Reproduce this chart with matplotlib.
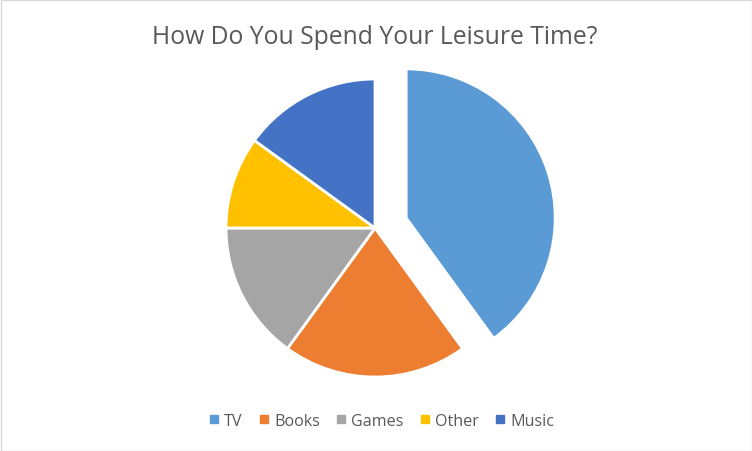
import matplotlib
matplotlib.use("Agg")
import matplotlib.pyplot as plt
from matplotlib.patches import Rectangle
from matplotlib.lines import Line2D

categories = ["TV", "Books", "Games", "Other", "Music"]
values = [40, 20, 15, 10, 15]
colors = ["#5B9BD5", "#ED7D31", "#A5A5A5", "#FFC000", "#4472C4"]
explode = [0.22, 0, 0, 0, 0]

plt.rcParams['font.family'] = ['Open Sans', 'DejaVu Sans']

W, H = 752, 452
fig = plt.figure(figsize=(W/100, H/100), dpi=100)
cx, cy, r = 375, 229, 149
ax = fig.add_axes([(cx - r)/W, (H - cy - r)/H, 2*r/W, 2*r/H])
ax.pie(values, colors=colors, explode=explode, startangle=90, counterclock=False,
       radius=1.0, wedgeprops=dict(edgecolor="white", linewidth=2.0))
ax.set_xlim(-1, 1)
ax.set_ylim(-1, 1)
ax.set_aspect("equal")
ax.axis("off")
for p in ax.patches:
    p.set_clip_on(False)

fig.text(375/W, 1 - 38/H, "How Do You Spend Your Leisure Time?", ha="center", va="center",
         fontsize=17.8, color="#595959")

handles = [Line2D([0], [0], marker="s", linestyle="none", markersize=6,
                  markerfacecolor=c, markeredgecolor=c) for c in colors]
fig.legend(handles, categories, loc="center", bbox_to_anchor=(380/W, 1 - 422/H),
           ncol=5, frameon=False, fontsize=11.6, labelcolor="#595959",
           handletextpad=0.15, columnspacing=0.8, handlelength=1.0)

fig.patches.append(Rectangle((0.5/W, 0.5/H), 1 - 1/W, 1 - 1/H, transform=fig.transFigure,
                             fill=False, edgecolor="#D9D9D9", linewidth=1))
fig.savefig("out.png", dpi=100, facecolor="white")
